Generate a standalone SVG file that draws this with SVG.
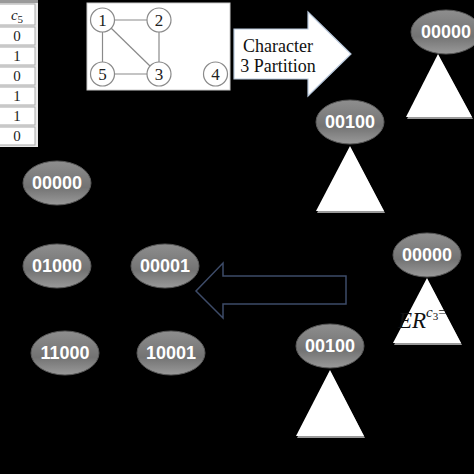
<svg xmlns="http://www.w3.org/2000/svg" width="474" height="474" viewBox="0 0 474 474">
<defs>
<linearGradient id="eg" x1="0" y1="0" x2="0" y2="1">
<stop offset="0" stop-color="#8e8e8e"/>
<stop offset="0.6" stop-color="#737373"/>
<stop offset="1" stop-color="#9a9a9a"/>
</linearGradient>
</defs>
<style>
.ell{fill:url(#eg);stroke:#5a5a5a;stroke-width:1}
.lab{font-family:"Liberation Sans",Arial,sans-serif;font-weight:bold;font-size:18px;fill:#fff;text-anchor:middle}
.tri{fill:#fff}
.trs{fill:#9a9a9a}
.cell{fill:#fff;stroke:#a8a8a8;stroke-width:1}
.tv{font-family:"Liberation Serif","Times New Roman",serif;font-size:15px;fill:#222;text-anchor:middle}
.gn{fill:#fff;stroke:#8a8a8a;stroke-width:1.2}
.gt{font-family:"Liberation Serif","Times New Roman",serif;font-size:17px;fill:#222;text-anchor:middle}
.ge{stroke:#8a8a8a;stroke-width:1.2;fill:none}
.at{font-family:"Liberation Serif","Times New Roman",serif;font-size:18px;fill:#111;text-anchor:middle}
</style>
<rect width="474" height="474" fill="#000"/>

<g id="table">
<rect x="0" y="0" width="38" height="3" fill="#9a9a9a"/>
<rect x="0" y="3" width="38" height="144" fill="#e8e8e8"/>
<rect class="cell" x="-1" y="4" width="36" height="21"/>
<text x="17" y="20" class="tv" font-style="italic" font-size="16">c<tspan font-size="11" dy="3" font-style="normal">5</tspan></text>
<rect class="cell" x="-1" y="27" width="36" height="18"/>
<text x="17" y="41" class="tv">0</text>
<rect class="cell" x="-1" y="47" width="36" height="18"/>
<text x="17" y="61" class="tv">1</text>
<rect class="cell" x="-1" y="67" width="36" height="18"/>
<text x="17" y="81" class="tv">0</text>
<rect class="cell" x="-1" y="87" width="36" height="18"/>
<text x="17" y="101" class="tv">1</text>
<rect class="cell" x="-1" y="107" width="36" height="18"/>
<text x="17" y="121" class="tv">1</text>
<rect class="cell" x="-1" y="127" width="36" height="18"/>
<text x="17" y="141" class="tv">0</text>
</g>

<g id="graph">
<rect x="87" y="3" width="143" height="87" fill="#fff" stroke="#ccc"/>
<line class="ge" x1="114" y1="20" x2="147" y2="20"/>
<line class="ge" x1="102.5" y1="32" x2="102.5" y2="62"/>
<line class="ge" x1="111" y1="28" x2="150" y2="66"/>
<line class="ge" x1="159" y1="32" x2="159" y2="62"/>
<line class="ge" x1="114.5" y1="74" x2="147" y2="74"/>
<circle class="gn" cx="102.5" cy="20" r="12"/><text class="gt" x="102.5" y="26">1</text>
<circle class="gn" cx="159" cy="20" r="12"/><text class="gt" x="159" y="26">2</text>
<circle class="gn" cx="102.5" cy="74" r="12"/><text class="gt" x="102.5" y="80">5</text>
<circle class="gn" cx="159" cy="74" r="12"/><text class="gt" x="159" y="80">3</text>
<circle class="gn" cx="215.5" cy="74" r="12"/><text class="gt" x="215.5" y="80">4</text>
</g>

<g id="arrow-partition">
<polygon points="234,29 308,29 308,12 351,54 308,96 308,79 234,79" fill="#fff" stroke="#b8c8dc" stroke-width="1.2"/>
<text x="278" y="52" class="at">Character</text>
<text x="278" y="72" class="at">3 Partition</text>
</g>

<g id="arrow-back">
<polygon points="346,276 223,276 223,263 196,291 223,318 223,304 346,304" fill="#000" stroke="#3d4b68" stroke-width="1.5"/>
</g>

<g id="tree-top-00000">
<polygon class="trs" points="438,55 407,119 473,119"/>
<polygon class="tri" points="438,54 406,117 472,117"/>
<ellipse class="ell" cx="446" cy="32" rx="35" ry="22"/>
<text class="lab" x="446" y="38">00000</text>
</g>

<g id="tree-top-00100">
<polygon class="trs" points="350,147 317,213 385,213"/>
<polygon class="tri" points="350,146 316,211 384,211"/>
<ellipse class="ell" cx="350" cy="122" rx="34" ry="22"/>
<text class="lab" x="350" y="128">00100</text>
</g>

<g id="n-00000">
<ellipse class="ell" cx="57" cy="183" rx="34" ry="22"/>
<text class="lab" x="57" y="189">00000</text>
</g>
<g id="n-01000">
<ellipse class="ell" cx="57" cy="266" rx="34" ry="22"/>
<text class="lab" x="57" y="272">01000</text>
</g>
<g id="n-00001">
<ellipse class="ell" cx="165" cy="266" rx="34" ry="22"/>
<text class="lab" x="165" y="272">00001</text>
</g>
<g id="n-11000">
<ellipse class="ell" cx="65" cy="353" rx="34" ry="22"/>
<text class="lab" x="65" y="359">11000</text>
</g>
<g id="n-10001">
<ellipse class="ell" cx="171" cy="353" rx="34" ry="22"/>
<text class="lab" x="171" y="359">10001</text>
</g>

<g id="tree-bot-00000">
<polygon class="trs" points="427,279 394,345 462,345"/>
<polygon class="tri" points="427,278 393,343 461,343"/>
<ellipse class="ell" cx="427" cy="255" rx="34" ry="22"/>
<text class="lab" x="427" y="261">00000</text>
<text x="398" y="328" font-family="Liberation Serif,'Times New Roman',serif" font-size="23" font-style="italic" fill="#111">ER<tspan font-size="15" dy="-11">c</tspan><tspan font-size="11" dy="3" font-style="normal">3</tspan><tspan font-size="15" dy="-3" font-style="normal">=</tspan></text>
</g>

<g id="tree-bot-00100">
<polygon class="trs" points="330,371 297,438 365,438"/>
<polygon class="tri" points="330,370 296,436 364,436"/>
<ellipse class="ell" cx="330" cy="346" rx="34" ry="22"/>
<text class="lab" x="330" y="352">00100</text>
</g>
</svg>
